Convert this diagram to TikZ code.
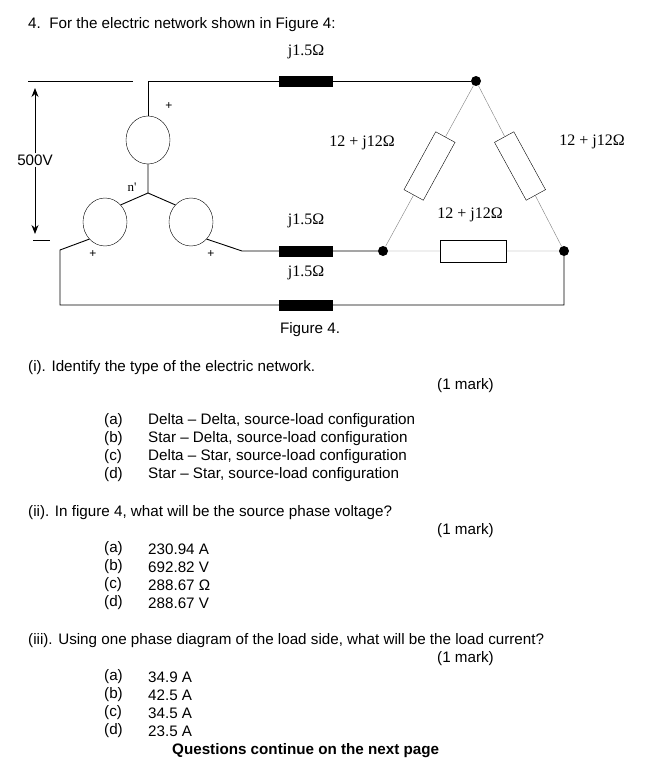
\documentclass[tikz,border=0pt]{standalone}
\usepackage{fontspec}
\setmainfont{Liberation Sans}
\newfontfamily\serifc{Liberation Serif}
\usetikzlibrary{arrows.meta,shapes.geometric,calc}
\begin{document}
\begin{tikzpicture}[x=1pt,y=-1pt,
  txt/.style={inner sep=0pt,anchor=west,font=\fontsize{15.2}{17}\selectfont},
  lbl/.style={inner sep=0pt,font=\serifc\fontsize{16}{18}\selectfont},
  src/.style={draw,ellipse,minimum width=44pt,minimum height=48pt,inner sep=0pt},
  ind/.style={fill=black,minimum width=54pt,minimum height=11pt,inner sep=0pt},
  res/.style={draw,fill=white,minimum width=66pt,minimum height=22pt,inner sep=0pt},
  dot/.style={circle,fill=black,minimum size=10pt,inner sep=0pt},
  wire/.style={line width=0.9pt},
  pl/.style={inner sep=0pt,font=\fontsize{12}{13}\selectfont}]
\useasboundingbox (0,0) rectangle (651,776);
\fill[white] (0,0) rectangle (651,776);
\node[txt] (t0) at (28,25) {4.\ \ For the electric network shown in Figure 4:};
% sources
\node[src] (sa) at (148,140) {};
\node[src] (sb) at (105,222) {};
\node[src] (sc) at (191,222) {};
\coordinate (n) at (148,193);
\draw[wire] (sa.south) -- (n) -- (sb.north east) (n) -- (sc.north west);
\node[inner sep=0pt,font=\serifc\fontsize{13}{14}\selectfont] (nl) at (132,187) {n'};
\node[pl] (p1) at (169,106) {+};
\node[pl] (p2) at (93,254) {+};
\node[pl] (p3) at (211,254) {+};
% inductors
\node[ind] (la) at (306,81) {};
\node[ind] (lb) at (306,251) {};
\node[ind] (lc) at (306,305) {};
\node[lbl] (la1) at (306,52) {j1.5Ω};
\node[lbl] (lb1) at (306,221) {j1.5Ω};
\node[lbl] (lc1) at (306,273) {j1.5Ω};
% delta nodes
\node[dot] (A) at (476,81) {};
\node[dot] (B) at (383,251) {};
\node[dot] (C) at (564,251) {};
\coordinate (a1) at (148,81);
\coordinate (b1) at (60,250);
\coordinate (b2) at (60,305);
\coordinate (c1) at (242,251);
\coordinate (d1) at (564,305);
\draw[wire] (sa.north) -- (a1) -- (la.west) (la.east) -- (A);
\draw[wire] (sb.south west) -- (b1) -- (b2) -- (lc.west) (lc.east) -- (d1) -- (C);
\draw[wire] (sc.south east) -- (c1) -- (lb.west) (lb.east) -- (B);
% delta resistors
\node[res,rotate=61.3] (rl) at ($(A)!0.5!(B)$) {};
\node[res,rotate=-61.3] (rr) at ($(A)!0.5!(C)$) {};
\node[res] (rb) at ($(B)!0.5!(C)$) {};
\draw[gray] (A) -- (rl) -- (B) (A) -- (rr) -- (C) (B) -- (rb) -- (C);
\node[lbl] (r1) at (362,143) {12 + j12Ω};
\node[lbl] (r2) at (592,142) {12 + j12Ω};
\node[lbl] (r3) at (470,215) {12 + j12Ω};
% 500V
\coordinate (tl1) at (28,81); \coordinate (tl2) at (133,81);
\draw[wire] (tl1) -- (tl2);
\coordinate (bd1) at (33,240); \coordinate (bd2) at (50,240);
\draw[wire] (bd1) -- (bd2);
\node[inner sep=1pt,fill=white,font=\fontsize{15.2}{17}\selectfont] (v) at (35,160) {500V};
\coordinate (ar1) at (35,88); \coordinate (ar2) at (35,234);
\draw[wire,-{Stealth[length=9pt,width=7pt]}] (v) -- (ar1);
\draw[wire,-{Stealth[length=9pt,width=7pt]}] (v) -- (ar2);
\node[txt,anchor=center] (f4) at (310,330) {Figure 4.};
% questions
\node[txt] (q1) at (28,368) {(i). Identify the type of the electric network.};
\node[txt] (m1) at (437,386) {(1 mark)};
\foreach \y/\l/\t [count=\i] in {421/(a)/{Delta – Delta, source-load configuration},439/(b)/{Star – Delta, source-load configuration},457/(c)/{Delta – Star, source-load configuration},475/(d)/{Star – Star, source-load configuration}}{
  \node[txt] (a\i) at (104,\y) {\l}; \node[txt] (b\i) at (148,\y) {\t};}
\node[txt] (q2) at (28,513) {(ii). In figure 4, what will be the source phase voltage?};
\node[txt] (m2) at (437,531) {(1 mark)};
\foreach \y/\l/\t [count=\i] in {549/(a)/230.94 A,567/(b)/692.82 V,585/(c)/288.67 Ω,603/(d)/288.67 V}{
  \node[txt] (c\i) at (104,\y) {\l}; \node[txt] (d\i) at (148,\y) {\t};}
\node[txt] (q3) at (28,641) {(iii). Using one phase diagram of the load side, what will be the load current?};
\node[txt] (m3) at (437,659) {(1 mark)};
\foreach \y/\l/\t [count=\i] in {677/(a)/34.9 A,695/(b)/42.5 A,713/(c)/34.5 A,731/(d)/23.5 A}{
  \node[txt] (e\i) at (104,\y) {\l}; \node[txt] (f\i) at (148,\y) {\t};}
\node[txt,font=\bfseries\fontsize{15.2}{17}\selectfont] (qc) at (172,751) {Questions continue on the next page};
\end{tikzpicture}
\end{document}
